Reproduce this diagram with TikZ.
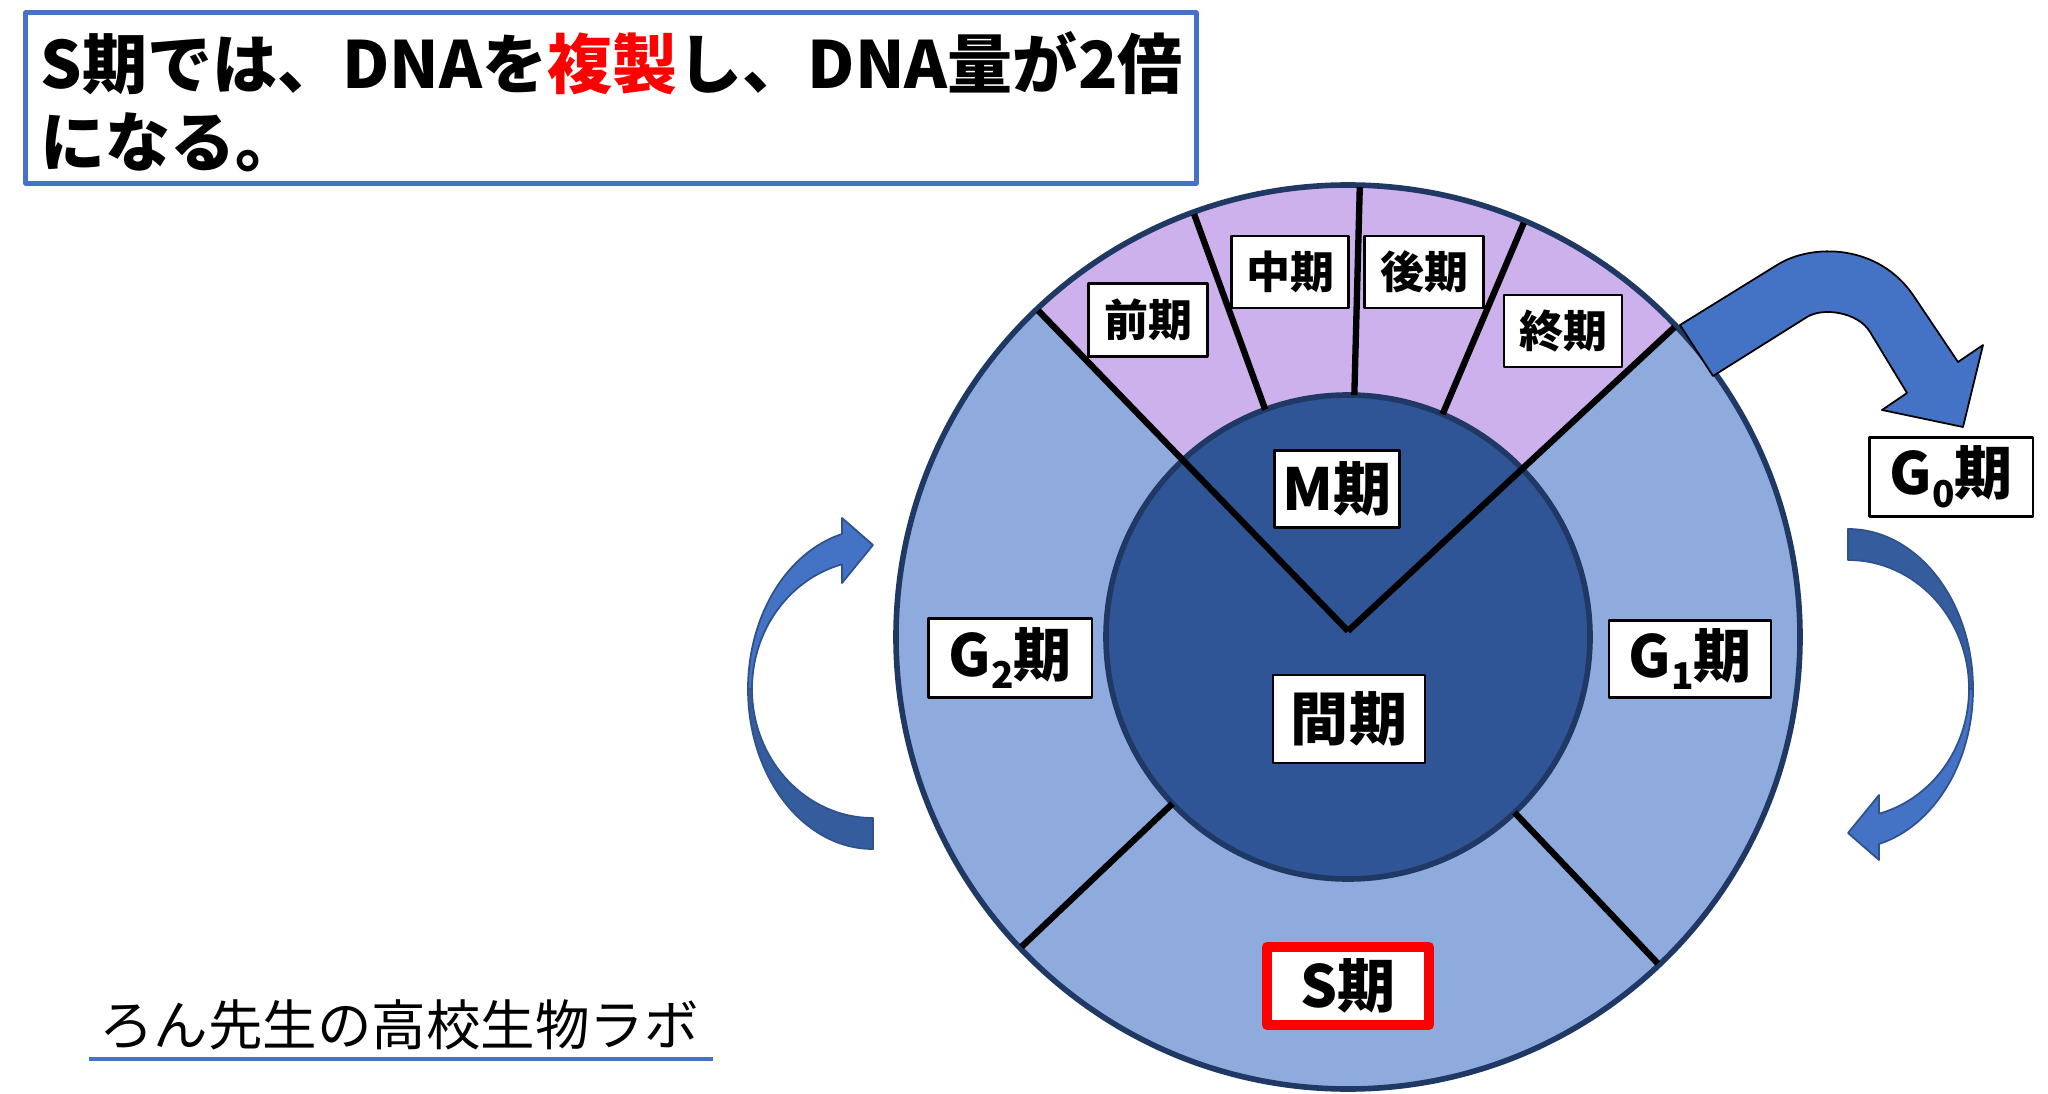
\documentclass[tikz,border=0pt]{standalone}
\usepackage{fontspec}
\setmainfont{Noto Sans CJK JP}

\definecolor{ringblue}{HTML}{8FAADC}
\definecolor{mlilac}{HTML}{CDB1EC}
\definecolor{coreblue}{HTML}{2F5597}
\definecolor{rimnavy}{HTML}{1F3864}
\definecolor{arrowblue}{HTML}{4472C4}
\definecolor{arrowdark}{HTML}{355D9E}
\definecolor{arrowline}{HTML}{2F528F}

\newcommand{\gsub}[1]{\raisebox{-0.22em}{\fontsize{10.5}{10.5}\selectfont #1}}

\begin{document}
\begin{tikzpicture}[x=0.01cm, y=-0.01cm, line join=round,
	phase/.style={draw=black, fill=white, line width=0.6pt, inner sep=0pt, font=\bfseries\fontsize{16.5}{16.5}\selectfont},
	subphase/.style={phase, font=\bfseries\fontsize{12.5}{12.5}\selectfont},
	divline/.style={black, line width=1.8pt},
	rim/.style={draw=rimnavy, line width=1.6pt}]

	\useasboundingbox (0,0) rectangle (2048,1094);

	% 見出し
	\node[draw=arrowblue, line width=1.4pt, minimum width=11.7cm, minimum height=1.7cm, inner sep=0pt] (titlebox) at (611,98) {};
	\node[anchor=west, inner sep=0pt, font=\bfseries\fontsize{18.5}{18.5}\selectfont] (title1) at (40,63) {S期では、DNAを\textcolor{red}{複製}し、DNA量が2倍};
	\node[anchor=west, inner sep=0pt, font=\bfseries\fontsize{18.5}{18.5}\selectfont] (title2) at (40,142) {になる。};

	% 細胞周期の円
	\coordinate (O) at (1348,637);
	\begin{scope}[shift={(O)}]
		\fill[ringblue] (0,0) circle[radius=452];
		\fill[mlilac] (0,0) -- (226.5:452) arc[start angle=226.5, end angle=316.5, radius=452] -- cycle;
		\draw[rim] (0,0) circle[radius=452];
		\filldraw[rim, fill=coreblue] (0,0) circle[radius=242];

		% 区切り線
		\draw[divline] (0,-6) -- (226.5:450);
		\draw[divline] (0,-6) -- (316.5:450);
		\foreach \a in {250,271.5,293,46.5,136.5}
			\draw[divline] (\a:242) -- (\a:450);
	\end{scope}

	% G0期への矢印
	\filldraw[fill=arrowblue, draw=black, line width=0.5pt]
		(1680,325) -- (1777,265) .. controls (1812,243) and (1878,244) .. (1913,295)
		-- (1958,362) -- (1983,345) -- (1963,427) -- (1882,410) -- (1907,393)
		-- (1870,332) .. controls (1858,312) and (1823,307) .. (1807,317)
		-- (1713,376) -- cycle;

	% 回る矢印（左右）
	\foreach \cx/\rot in {873/0, 1848/180} {
		\begin{scope}[shift={(\cx,689)}, rotate=\rot]
			\filldraw[fill=arrowdark, draw=arrowline, line width=0.5pt]
				(-125,0) arc[start angle=180, end angle=90, x radius=125, y radius=160]
				-- (0,129) arc[start angle=90, end angle=180, x radius=121, y radius=129] -- cycle;
			\filldraw[fill=arrowblue, draw=arrowline, line width=0.5pt]
				(-125,0) arc[start angle=180, end angle=255.64, x radius=125, y radius=160]
				-- (-31,-171) -- (0,-144) -- (-31,-106) -- (-31,-124.7)
				arc[start angle=255.16, end angle=180, x radius=121, y radius=129] -- cycle;
		\end{scope}
	}

	% 各期のラベル
	\node[subphase, minimum width=1.19cm, minimum height=0.73cm] (pro) at (1148,320) {前期};
	\node[subphase, minimum width=1.17cm, minimum height=0.72cm] (meta) at (1290,272) {中期};
	\node[subphase, minimum width=1.19cm, minimum height=0.72cm] (ana) at (1424,272) {後期};
	\node[subphase, minimum width=1.18cm, minimum height=0.72cm] (telo) at (1563,331) {終期};
	\node[phase, minimum width=1.25cm, minimum height=0.77cm] (mph) at (1337,489) {M期};
	\node[phase, minimum width=1.52cm, minimum height=0.88cm] (inter) at (1349,719) {間期};
	\node[phase, minimum width=1.63cm, minimum height=0.79cm] (gtwo) at (1010,658) {G\gsub{2}期};
	\node[phase, minimum width=1.62cm, minimum height=0.77cm] (gone) at (1690,659) {G\gsub{1}期};
	\node[phase, draw=red, line width=0.1cm, minimum width=1.62cm, minimum height=0.78cm] (sph) at (1348,986) {S期};
	\node[phase, minimum width=1.63cm, minimum height=0.79cm] (gzero) at (1951,477) {G\gsub{0}期};

	% 署名
	\node[inner sep=0pt, font=\fontsize{15.5}{15.5}\selectfont] (lab) at (399,1025) {ろん先生の高校生物ラボ};
	\draw[arrowblue, line width=0.9pt] (89,1059) -- (713,1059);

\end{tikzpicture}
\end{document}
